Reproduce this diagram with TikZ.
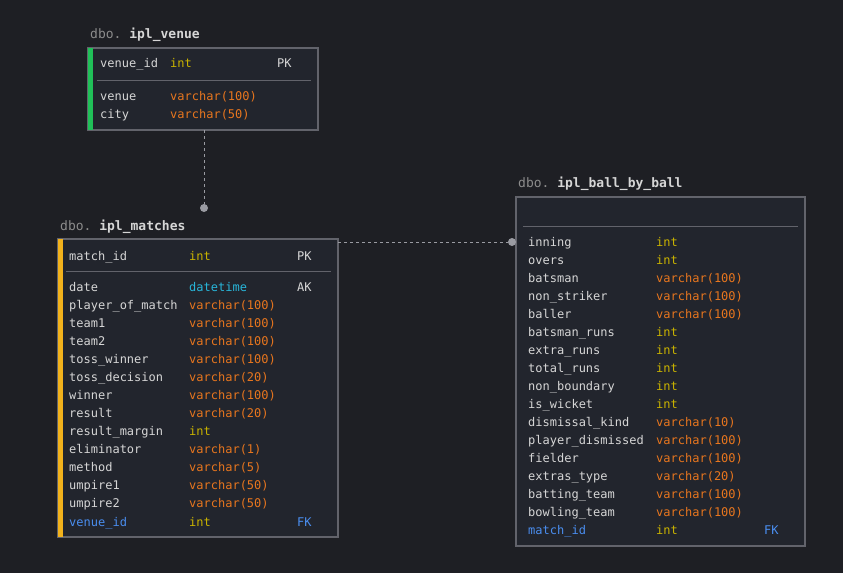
\documentclass[tikz,border=0pt]{standalone}
\usepackage{fontspec}
\setmonofont{DejaVu Sans Mono}
\definecolor{bg}{HTML}{1E1F24}
\definecolor{boxf}{HTML}{22252D}
\definecolor{bord}{HTML}{62636B}
\definecolor{txt}{HTML}{D6D6D6}
\definecolor{tint}{HTML}{C9B300}
\definecolor{tvar}{HTML}{E8761E}
\definecolor{tdt}{HTML}{28B6DA}
\definecolor{tfk}{HTML}{4A8EF0}
\definecolor{grn}{HTML}{20C058}
\definecolor{org}{HTML}{F2B21C}
\definecolor{dbo}{HTML}{8C8C8C}
\definecolor{conn}{HTML}{9A9BA2}
\begin{document}
\begin{tikzpicture}[x=1pt,y=-1pt,
  t/.style={anchor=base west,yshift=-4.3pt,inner sep=0pt,font=\ttfamily\fontsize{12}{12}\selectfont,text=txt},
  ti/.style={t,text=tint}, tv/.style={t,text=tvar}, td/.style={t,text=tdt}, tf/.style={t,text=tfk},
  ttl/.style={anchor=base west,yshift=-4.5pt,inner sep=0pt,font=\ttfamily\fontsize{13}{13}\selectfont},
  tbl/.style={draw=bord,fill=boxf,line width=1.2pt},
  sep/.style={draw=bord,line width=0.8pt},
  cn/.style={draw=conn,line width=1pt,dash pattern=on 3pt off 3pt},
  dot/.style={circle,fill=conn,inner sep=0pt,minimum size=8pt}]
\fill[bg] (0,0) rectangle (843,573);
\useasboundingbox (0,0) rectangle (843,573);
% venue
\draw[tbl] (88,48) rectangle (318,130);
\fill[grn] (88,48) rectangle (92.5,130);
\node[ttl] (vt) at (90,34) {\textcolor{dbo}{dbo.} \textcolor{txt}{\bfseries ipl\_venue}};
\draw[sep] (97,80) -- (311,80);
\node[t] (v1) at (100,63) {venue\_id}; \node[ti] at (170,63) {int}; \node[t] at (277,63) {PK};
\node[t] at (100,96) {venue}; \node[tv] at (170,96) {varchar(100)};
\node[t] at (100,114) {city}; \node[tv] at (170,114) {varchar(50)};
\coordinate (vb) at (204,130);
% matches
\draw[tbl] (58,239) rectangle (338,537);
\fill[org] (58,239) rectangle (62.5,537);
\node[ttl] (mt) at (60,226) {\textcolor{dbo}{dbo.} \textcolor{txt}{\bfseries ipl\_matches}};
\draw[sep] (66,271) -- (331,271);
\node[t] at (69,256) {match\_id}; \node[ti] at (189,256) {int}; \node[t] at (297,256) {PK};
\node[t] at (69,287) {date}; \node[td] at (189,287) {datetime}; \node[t] at (297,287) {AK};
\foreach \n/\ty/\c [count=\i] in {player\_of\_match/varchar(100)/tv,team1/varchar(100)/tv,team2/varchar(100)/tv,toss\_winner/varchar(100)/tv,toss\_decision/varchar(20)/tv,winner/varchar(100)/tv,result/varchar(20)/tv,result\_margin/int/ti,eliminator/varchar(1)/tv,method/varchar(5)/tv,umpire1/varchar(50)/tv,umpire2/varchar(50)/tv}
  {\node[t] at (69,287+18*\i) {\n}; \node[\c] at (189,287+18*\i) {\ty};}
\node[tf] at (69,522) {venue\_id}; \node[ti] at (189,522) {int}; \node[tf] at (297,522) {FK};
\node[dot] (md) at (204,208) {};
\coordinate (mr) at (338,242);
% ball
\draw[tbl] (516,197) rectangle (805,546);
\node[ttl] (bt) at (518,183) {\textcolor{dbo}{dbo.} \textcolor{txt}{\bfseries ipl\_ball\_by\_ball}};
\draw[sep] (523,226) -- (798,226);
\foreach \n/\ty/\c [count=\i] in {inning/int/ti,overs/int/ti,batsman/varchar(100)/tv,non\_striker/varchar(100)/tv,baller/varchar(100)/tv,batsman\_runs/int/ti,extra\_runs/int/ti,total\_runs/int/ti,non\_boundary/int/ti,is\_wicket/int/ti,dismissal\_kind/varchar(10)/tv,player\_dismissed/varchar(100)/tv,fielder/varchar(100)/tv,extras\_type/varchar(20)/tv,batting\_team/varchar(100)/tv,bowling\_team/varchar(100)/tv}
  {\node[t] at (528,224+18*\i) {\n}; \node[\c] at (656,224+18*\i) {\ty};}
\node[tf] at (528,530) {match\_id}; \node[ti] at (656,530) {int}; \node[tf] at (764,530) {FK};
\node[dot] (bd) at (512,242) {};
% connectors
\draw[cn] (vb) -- (md);
\draw[cn] (mr) -- (bd);
\end{tikzpicture}
\end{document}
